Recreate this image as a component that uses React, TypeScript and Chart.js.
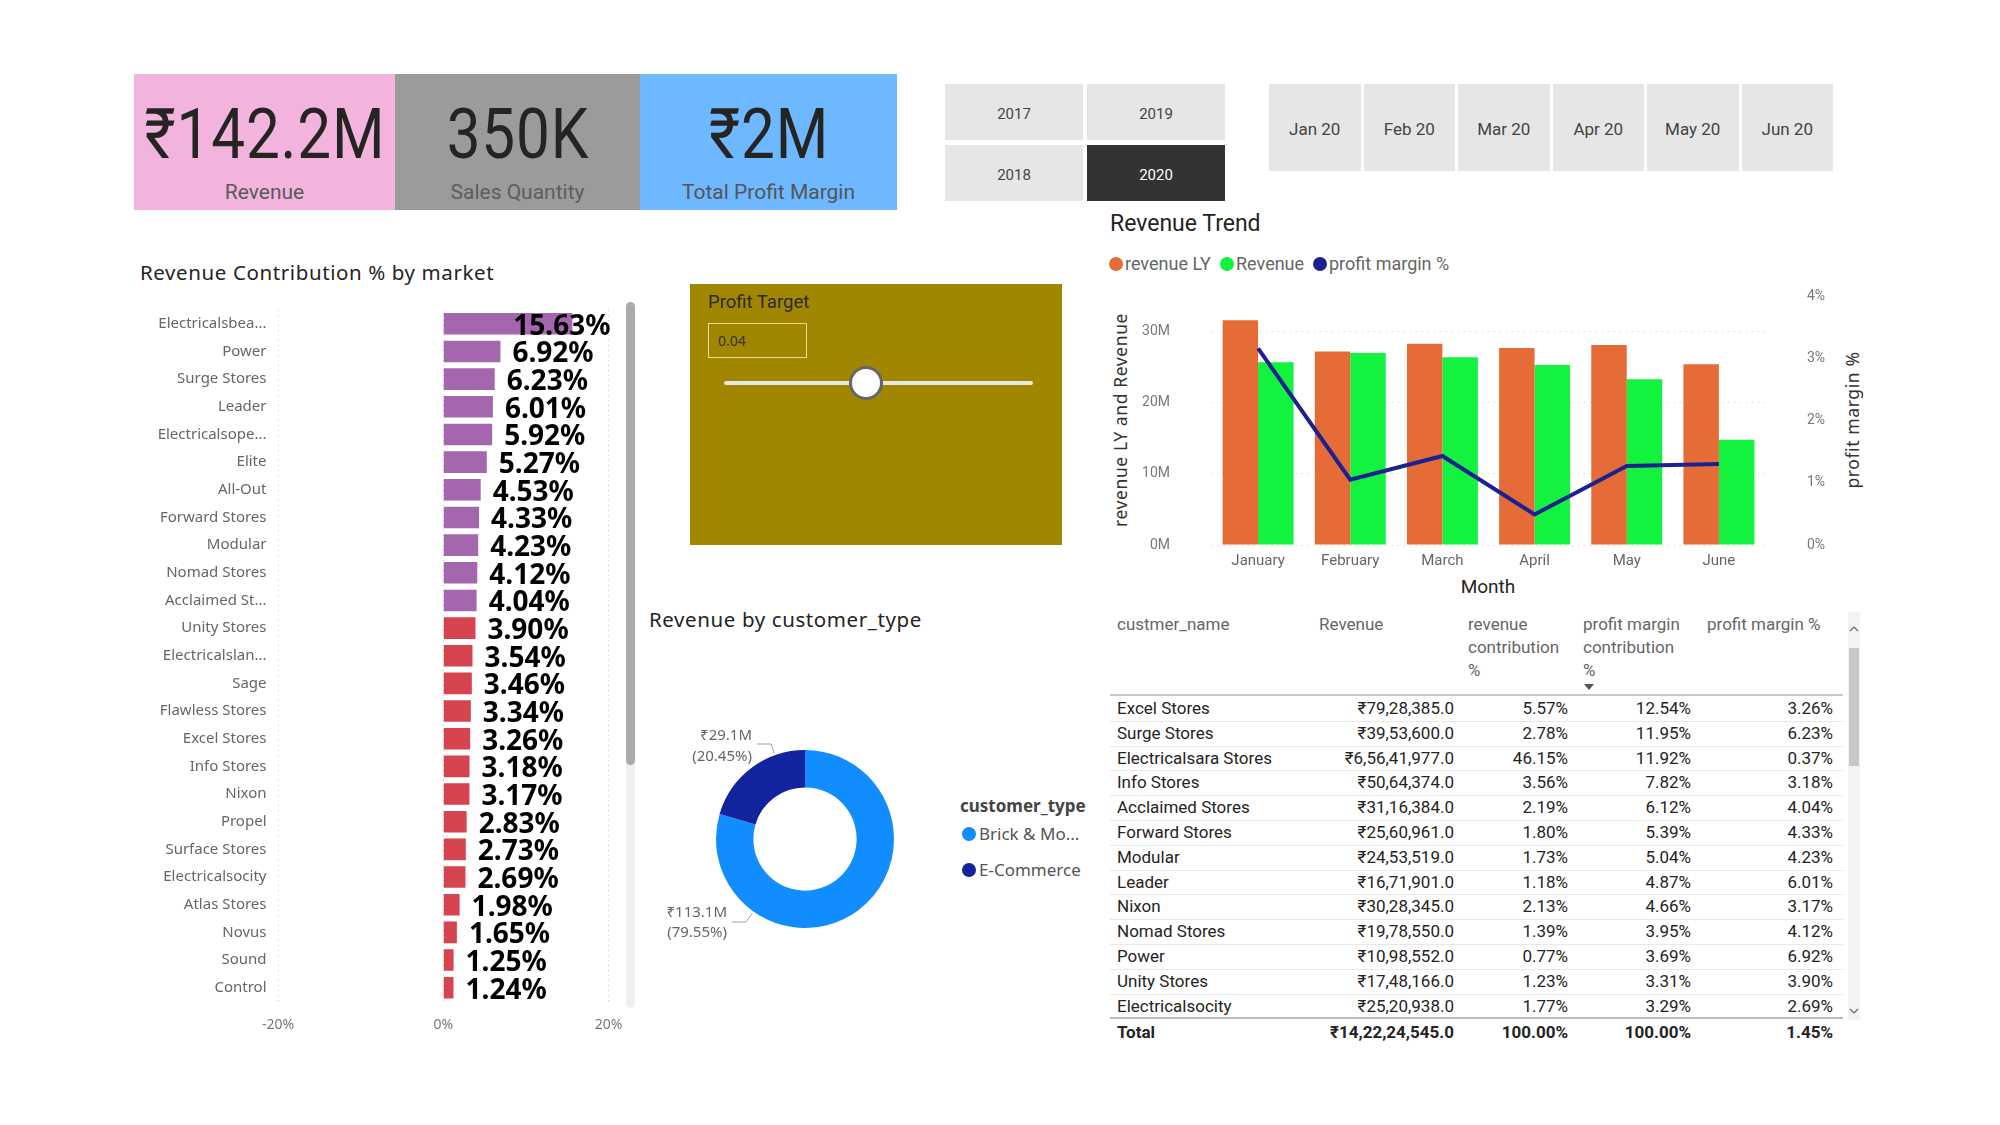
import React, { useEffect, useRef } from 'react';
import { Chart, registerables } from 'chart.js';

Chart.register(...registerables);

// ---------- data ----------
const kpiValues = ['₹142.2M', '350K', '₹2M'];
const kpiLabels = ['Revenue', 'Sales Quantity', 'Total Profit Margin'];

const yearOptions = ['2017', '2019', '2018', '2020'];
const selectedYear = '2020';
const monthOptions = ['Jan 20', 'Feb 20', 'Mar 20', 'Apr 20', 'May 20', 'Jun 20'];

const markets = [
  'Electricalsbea...', 'Power', 'Surge Stores', 'Leader', 'Electricalsope...', 'Elite', 'All-Out',
  'Forward Stores', 'Modular', 'Nomad Stores', 'Acclaimed St...', 'Unity Stores', 'Electricalslan...',
  'Sage', 'Flawless Stores', 'Excel Stores', 'Info Stores', 'Nixon', 'Propel', 'Surface Stores',
  'Electricalsocity', 'Atlas Stores', 'Novus', 'Sound', 'Control',
];
const marketContribution = [
  15.63, 6.92, 6.23, 6.01, 5.92, 5.27, 4.53, 4.33, 4.23, 4.12, 4.04, 3.9, 3.54,
  3.46, 3.34, 3.26, 3.18, 3.17, 2.83, 2.73, 2.69, 1.98, 1.65, 1.25, 1.24,
];
const marketThreshold = 4;
const marketTicks = [-20, 0, 20];

const trendMonths = ['January', 'February', 'March', 'April', 'May', 'June'];
const revenueLY = [31.6, 27.2, 28.3, 27.7, 28.1, 25.4];
const revenueTY = [25.7, 27.0, 26.4, 25.3, 23.3, 14.8];
const profitMarginPct = [3.16, 1.05, 1.43, 0.49, 1.27, 1.3];
const trendLegend = ['revenue LY', 'Revenue', 'profit margin %'];

const customerTypes = ['Brick & Mortar', 'E-Commerce'];
const customerTypeLegend = ['Brick & Mo...', 'E-Commerce'];
const customerTypeRevenueM = [113.1, 29.1];
const customerTypeShare = [79.55, 20.45];

const profitTarget = '0.04';

const tableHeaders = [
  ['custmer_name'],
  ['Revenue'],
  ['revenue', 'contribution', '%'],
  ['profit margin', 'contribution', '%'],
  ['profit margin %'],
];
const tableCustomers = [
  'Excel Stores', 'Surge Stores', 'Electricalsara Stores', 'Info Stores', 'Acclaimed Stores',
  'Forward Stores', 'Modular', 'Leader', 'Nixon', 'Nomad Stores', 'Power', 'Unity Stores', 'Electricalsocity',
];
const tableRevenue = [
  '₹79,28,385.0', '₹39,53,600.0', '₹6,56,41,977.0', '₹50,64,374.0', '₹31,16,384.0', '₹25,60,961.0',
  '₹24,53,519.0', '₹16,71,901.0', '₹30,28,345.0', '₹19,78,550.0', '₹10,98,552.0', '₹17,48,166.0', '₹25,20,938.0',
];
const tableRevContribution = ['5.57%', '2.78%', '46.15%', '3.56%', '2.19%', '1.80%', '1.73%', '1.18%', '2.13%', '1.39%', '0.77%', '1.23%', '1.77%'];
const tablePmContribution = ['12.54%', '11.95%', '11.92%', '7.82%', '6.12%', '5.39%', '5.04%', '4.87%', '4.66%', '3.95%', '3.69%', '3.31%', '3.29%'];
const tablePmPct = ['3.26%', '6.23%', '0.37%', '3.18%', '4.04%', '4.33%', '4.23%', '6.01%', '3.17%', '4.12%', '6.92%', '3.90%', '2.69%'];
const tableTotal = ['Total', '₹14,22,24,545.0', '100.00%', '100.00%', '1.45%'];

// ---------- styles ----------
const SANS = '"Noto Sans", "Open Sans", sans-serif';
const ROBOTO = 'Roboto, "Noto Sans", sans-serif';
const PURPLE = '#A466AD';
const RED = '#D5444F';
const ORANGE = '#E66C37';
const GREEN = '#12F23F';
const NAVY = '#1B2290';
const DONUT_BLUE = '#118DFF';
const DONUT_NAVY = '#12239E';

type TProps = {
  x: number; y: number; size: number; children: React.ReactNode;
  color?: string; family?: string; weight?: number; align?: 'left' | 'right' | 'center';
  style?: React.CSSProperties;
};
const T = ({ x, y, size, children, color = '#252423', family = ROBOTO, weight = 400, align = 'left', style = {} }: TProps) => {
  const tx = align === 'left' ? '0' : align === 'right' ? '-100%' : '-50%';
  return (
    <div style={{
      position: 'absolute', left: x, top: y, transform: `translate(${tx}, -50%)`, fontSize: size,
      color, fontFamily: family, fontWeight: weight, whiteSpace: 'nowrap', lineHeight: 1.2, ...style,
    }}>{children}</div>
  );
};

const Box = ({ x, y, w, h, bg, style = {} }: { x: number; y: number; w: number; h: number; bg: string; style?: React.CSSProperties }) => (
  <div style={{ position: 'absolute', left: x, top: y, width: w, height: h, background: bg, ...style }} />
);

const noPad = (s: any) => { s.paddingTop = 0; s.paddingBottom = 0; s.paddingLeft = 0; s.paddingRight = 0; };

// ---------- charts ----------
function MarketChart() {
  const ref = useRef<HTMLCanvasElement>(null);
  useEffect(() => {
    const labelPlugin = {
      id: 'barLabels',
      afterDatasetsDraw(chart: any) {
        const { ctx, chartArea } = chart;
        const meta = chart.getDatasetMeta(0);
        ctx.save();
        ctx.font = `bold 28px ${SANS}`;
        ctx.fillStyle = '#000';
        ctx.textBaseline = 'middle';
        meta.data.forEach((bar: any, i: number) => {
          const text = marketContribution[i].toFixed(2) + '%';
          const w = ctx.measureText(text).width;
          let x = bar.x + 12;
          if (x + w > chartArea.right + 2) x = chartArea.right + 2 - w;
          ctx.fillText(text, x, bar.y + 3);
        });
        ctx.restore();
      },
    };
    const chart = new Chart(ref.current as HTMLCanvasElement, {
      type: 'bar',
      data: {
        labels: markets,
        datasets: [{
          data: marketContribution,
          backgroundColor: marketContribution.map((v) => (v >= marketThreshold ? PURPLE : RED)),
          barPercentage: 0.78,
          categoryPercentage: 1,
        }],
      },
      options: {
        indexAxis: 'y',
        responsive: false,
        animation: false,
        devicePixelRatio: 1,
        layout: { padding: { top: 10, right: 16.5, bottom: 0, left: 0 } },
        plugins: { legend: { display: false }, tooltip: { enabled: false } },
        scales: {
          x: {
            min: marketTicks[0],
            max: marketTicks[marketTicks.length - 1],
            afterBuildTicks: (s: any) => { s.ticks = marketTicks.map((v) => ({ value: v })); },
            ticks: { callback: (v: any) => v + '%', color: '#777', font: { size: 14, family: SANS }, padding: 15, maxRotation: 0 },
            grid: { color: '#c8c8c8', drawTicks: false, lineWidth: 1 },
            border: { display: false, dash: [1, 4] },
            afterFit: (s: any) => { s.height = 38.5; noPad(s); },
          },
          y: {
            ticks: { color: '#666', font: { size: 15, family: SANS }, padding: 11.5, autoSkip: false },
            grid: { display: false, drawTicks: false },
            border: { display: false },
            afterFit: (s: any) => { s.width = 148; noPad(s); },
          },
        },
      } as any,
      plugins: [labelPlugin],
    });
    return () => chart.destroy();
  }, []);
  return <canvas ref={ref} width={495} height={740} style={{ position: 'absolute', left: 130, top: 300, display: 'block' }} />;
}

function TrendChart() {
  const ref = useRef<HTMLCanvasElement>(null);
  useEffect(() => {
    const chart = new Chart(ref.current as HTMLCanvasElement, {
      data: {
        labels: trendMonths,
        datasets: [
          { type: 'line', label: trendLegend[2], data: profitMarginPct, yAxisID: 'y1', borderColor: NAVY, borderWidth: 4, pointRadius: 0, tension: 0, order: 0 },
          { type: 'bar', label: trendLegend[0], data: revenueLY, yAxisID: 'y', backgroundColor: ORANGE, categoryPercentage: 0.77, barPercentage: 1, order: 1 },
          { type: 'bar', label: trendLegend[1], data: revenueTY, yAxisID: 'y', backgroundColor: GREEN, categoryPercentage: 0.77, barPercentage: 1, order: 1 },
        ],
      },
      options: {
        responsive: false,
        animation: false,
        devicePixelRatio: 1,
        layout: { padding: { top: 16, right: 0, bottom: 0, left: 0 } },
        plugins: { legend: { display: false }, tooltip: { enabled: false } },
        scales: {
          x: {
            grid: { display: false, drawTicks: false },
            border: { display: false },
            ticks: { color: '#666', font: { size: 15, family: ROBOTO }, padding: 7, maxRotation: 0 },
            afterFit: (s: any) => { s.height = 55; noPad(s); },
          },
          y: {
            position: 'left',
            min: 0,
            max: 35,
            afterBuildTicks: (s: any) => { s.ticks = s.ticks.filter((t: any) => t.value % 10 === 0); },
            ticks: { stepSize: 10, callback: (v: any) => v + 'M', color: '#777', font: { size: 14, family: ROBOTO }, padding: 42 },
            grid: { color: '#cfcfcf', drawTicks: false },
            border: { display: false, dash: [1, 5] },
            afterFit: (s: any) => { s.width = 112; noPad(s); },
          },
          y1: {
            position: 'right',
            min: 0,
            max: 4,
            ticks: { stepSize: 1, callback: (v: any) => v + '%', color: '#777', font: { size: 14, family: ROBOTO }, padding: 42 },
            grid: { display: false, drawTicks: false },
            border: { display: false },
            afterFit: (s: any) => { s.width = 115; noPad(s); },
          },
        },
      } as any,
    });
    return () => chart.destroy();
  }, []);
  return <canvas ref={ref} width={780} height={320} style={{ position: 'absolute', left: 1100, top: 280, display: 'block' }} />;
}

const DONUT_OX = 650;
const DONUT_OY = 700;
const donutLabelLayout = [
  { textRight: 727, line1: 913, line2: 933, lineY: 922 },
  { textRight: 752, line1: 736, line2: 757, lineY: 744 },
];

function DonutChart() {
  const ref = useRef<HTMLCanvasElement>(null);
  useEffect(() => {
    const donutLabels = {
      id: 'donutLabels',
      afterDatasetsDraw(chart: any) {
        const { ctx } = chart;
        const meta = chart.getDatasetMeta(0);
        ctx.save();
        meta.data.forEach((arc: any, i: number) => {
          const p = arc.getProps(['x', 'y', 'outerRadius'], true);
          const L = donutLabelLayout[i];
          const tr = L.textRight - DONUT_OX;
          const ey = L.lineY - DONUT_OY;
          const ex = tr + 19;
          const dx = ex - p.x;
          const dy = ey - p.y;
          const d = Math.hypot(dx, dy);
          const ax = p.x + (dx / d) * (p.outerRadius + 2);
          const ay = p.y + (dy / d) * (p.outerRadius + 2);
          ctx.strokeStyle = '#a0a0a0';
          ctx.lineWidth = 1;
          ctx.beginPath();
          ctx.moveTo(tr + 5, ey);
          ctx.lineTo(ex, ey);
          ctx.lineTo(ax, ay);
          ctx.stroke();
          ctx.fillStyle = '#666';
          ctx.font = `15px ${SANS}`;
          ctx.textAlign = 'right';
          ctx.textBaseline = 'middle';
          ctx.fillText('₹' + customerTypeRevenueM[i].toFixed(1) + 'M', tr, L.line1 - DONUT_OY);
          ctx.fillText('(' + customerTypeShare[i].toFixed(2) + '%)', tr, L.line2 - DONUT_OY);
        });
        ctx.restore();
      },
    };
    const chart = new Chart(ref.current as HTMLCanvasElement, {
      type: 'doughnut',
      data: {
        labels: customerTypes,
        datasets: [{ data: customerTypeRevenueM, backgroundColor: [DONUT_BLUE, DONUT_NAVY], borderWidth: 0 }],
      },
      options: {
        responsive: false,
        animation: false,
        devicePixelRatio: 1,
        cutout: '58%',
        layout: { padding: { left: 66, right: 46, top: 50, bottom: 32 } },
        plugins: { legend: { display: false }, tooltip: { enabled: false } },
      } as any,
      plugins: [donutLabels],
    });
    return () => chart.destroy();
  }, []);
  return <canvas ref={ref} width={290} height={260} style={{ position: 'absolute', left: DONUT_OX, top: DONUT_OY, display: 'block' }} />;
}

// ---------- layout pieces ----------
const cardX = [134, 395, 640, 897];
const cardColors = ['#F2B4DC', '#9B9B9B', '#6DB8FF'];
const cardLabelColors = ['#5a5a5a', '#5e5e5e', '#555'];

function KpiCards() {
  return (
    <>
      {kpiValues.map((v, i) => {
        const x0 = cardX[i];
        const w = cardX[i + 1] - x0;
        const cx = x0 + w / 2;
        return (
          <React.Fragment key={i}>
            <Box x={x0} y={74} w={w} h={136} bg={cardColors[i]} />
            <div style={{ position: 'absolute', left: cx, top: 134, transform: 'translate(-50%, -50%) scaleX(0.86)', fontFamily: ROBOTO, fontSize: 70, lineHeight: 1, color: '#252423', whiteSpace: 'nowrap', letterSpacing: 1 }}>{v}</div>
            <T x={cx} y={193} size={21} align="center" color={cardLabelColors[i]}>{kpiLabels[i]}</T>
          </React.Fragment>
        );
      })}
    </>
  );
}

function YearSlicer() {
  const pos = [[945, 84], [1087, 84], [945, 145], [1087, 145]];
  return (
    <>
      {yearOptions.map((y, i) => {
        const sel = y === selectedYear;
        return (
          <div key={y} style={{ position: 'absolute', left: pos[i][0], top: pos[i][1], width: 138, height: 56, background: sel ? '#333333' : '#E6E6E6', color: sel ? '#fff' : '#444', display: 'flex', alignItems: 'center', justifyContent: 'center', fontFamily: ROBOTO, fontSize: 15, paddingTop: 3, boxSizing: 'border-box' }}>{y}</div>
        );
      })}
    </>
  );
}

function MonthSlicer() {
  const w = (564 - 5 * 3) / 6;
  return (
    <>
      {monthOptions.map((m, i) => (
        <div key={m} style={{ position: 'absolute', left: 1269 + i * (w + 3), top: 84, width: w, height: 87, background: '#E6E6E6', color: '#444', display: 'flex', alignItems: 'center', justifyContent: 'center', fontFamily: ROBOTO, fontSize: 17, paddingTop: 2, boxSizing: 'border-box' }}>{m}</div>
      ))}
    </>
  );
}

function ProfitTargetPanel() {
  return (
    <>
      <Box x={690} y={284} w={372} h={261} bg="#A18600" />
      <T x={708} y={302} size={18.5} color="#2a2a2a">Profit Target</T>
      <div style={{ position: 'absolute', left: 708, top: 323, width: 97, height: 33, border: '1px solid #E6DCA8' }} />
      <T x={718} y={341} size={14} color="#333" family={SANS}>{profitTarget}</T>
      <div style={{ position: 'absolute', left: 724, top: 381, width: 309, height: 4, borderRadius: 2, background: '#E8E8E2' }} />
      <div style={{ position: 'absolute', left: 866 - 17, top: 383 - 17, width: 28, height: 28, borderRadius: '50%', background: '#fff', border: '3px solid #666' }} />
    </>
  );
}

function TrendDecor() {
  const items = [
    { x: 1116, color: ORANGE, label: trendLegend[0] },
    { x: 1227, color: GREEN, label: trendLegend[1] },
    { x: 1320, color: NAVY, label: trendLegend[2] },
  ];
  return (
    <>
      <T x={1110} y={224} size={23} color="#252423">Revenue Trend</T>
      {items.map((it) => (
        <React.Fragment key={it.label}>
          <div style={{ position: 'absolute', left: it.x - 7, top: 264 - 7, width: 14, height: 14, borderRadius: '50%', background: it.color }} />
          <T x={it.x + 9} y={264} size={18} color="#666">{it.label}</T>
        </React.Fragment>
      ))}
      <T x={1120} y={420} size={17.5} color="#333" family={SANS} align="center" style={{ transform: 'translate(-50%, -50%) rotate(-90deg)', letterSpacing: 0.6 }}>revenue LY and Revenue</T>
      <T x={1852} y={420} size={17.5} color="#333" family={SANS} align="center" style={{ transform: 'translate(-50%, -50%) rotate(-90deg)', letterSpacing: 0.6 }}>profit margin %</T>
      <T x={1488} y={587} size={19} align="center" color="#252423">Month</T>
    </>
  );
}

function DonutDecor() {
  const colors = [DONUT_BLUE, DONUT_NAVY];
  const ys = [834, 870];
  return (
    <>
      <T x={649} y={619} size={20.5} family={SANS} color="#252423" style={{ letterSpacing: 0.6 }}>Revenue by customer_type</T>
      <T x={960} y={806} size={17} family={SANS} weight={700} color="#444">customer_type</T>
      {customerTypeLegend.map((l, i) => (
        <React.Fragment key={l}>
          <div style={{ position: 'absolute', left: 969 - 7, top: ys[i] - 7, width: 14, height: 14, borderRadius: '50%', background: colors[i] }} />
          <T x={979} y={ys[i]} size={17} family={SANS} color="#555">{l}</T>
        </React.Fragment>
      ))}
    </>
  );
}

function MarketDecor() {
  return (
    <>
      <T x={140} y={272} size={20.5} family={SANS} color="#252423" style={{ letterSpacing: 0.6 }}>Revenue Contribution % by market</T>
      <div style={{ position: 'absolute', left: 626, top: 302, width: 9, height: 706, borderRadius: 5, background: '#F0F0F0' }} />
      <div style={{ position: 'absolute', left: 626, top: 302, width: 9, height: 463, borderRadius: 5, background: '#ABABAB' }} />
    </>
  );
}

const Chevron = ({ x, y, up }: { x: number; y: number; up: boolean }) => (
  <svg style={{ position: 'absolute', left: x - 5, top: y - 4 }} width={10} height={8}>
    <polyline points={up ? '1,6 5,2 9,6' : '1,2 5,6 9,2'} fill="none" stroke="#666" strokeWidth={1.2} />
  </svg>
);

function DataTable() {
  const colLeft = [1117, 1319, 1468, 1583, 1707];
  const colRight = [0, 1454, 1568, 1691, 1833];
  const rowY0 = 708;
  const step = 24.8;
  const columns = [tableCustomers, tableRevenue, tableRevContribution, tablePmContribution, tablePmPct];
  return (
    <>
      {tableHeaders.map((lines, c) =>
        lines.map((ln, k) => (
          <T key={`h${c}-${k}`} x={colLeft[c]} y={624 + k * 23} size={17} color="#666">{ln}</T>
        ))
      )}
      <svg style={{ position: 'absolute', left: 1584, top: 684 }} width={10} height={7}>
        <polygon points="0,0 10,0 5,6" fill="#555" />
      </svg>
      <Box x={1110} y={694} w={733} h={2} bg="#C8C8C8" />
      {tableCustomers.map((_, r) => (
        <React.Fragment key={`r${r}`}>
          {r > 0 && <Box x={1110} y={696 + r * step} w={733} h={1} bg="#E8E8E8" />}
          {columns.map((col, c) =>
            c === 0 ? (
              <T key={c} x={colLeft[0]} y={rowY0 + r * step} size={17} color="#252423">{col[r]}</T>
            ) : (
              <T key={c} x={colRight[c]} y={rowY0 + r * step} size={17} align="right" color="#252423">{col[r]}</T>
            )
          )}
        </React.Fragment>
      ))}
      <Box x={1110} y={1017} w={733} h={2} bg="#BDBDBD" />
      {tableTotal.map((v, c) =>
        c === 0 ? (
          <T key={`t${c}`} x={colLeft[0]} y={1032} size={17} weight={700} color="#252423">{v}</T>
        ) : (
          <T key={`t${c}`} x={colRight[c]} y={1032} size={17} weight={700} align="right" color="#252423">{v}</T>
        )
      )}
      <div style={{ position: 'absolute', left: 1848, top: 612, width: 12, height: 408, background: '#F3F3F3' }} />
      <div style={{ position: 'absolute', left: 1849, top: 648, width: 10, height: 118, background: '#C8C8C8' }} />
      <Chevron x={1854} y={629} up={true} />
      <Chevron x={1854} y={1011} up={false} />
    </>
  );
}

export default function App() {
  return (
    <div style={{ position: 'fixed', left: 0, top: 0, width: 2000, height: 1125, background: '#ffffff', overflow: 'hidden' }}>
      <KpiCards />
      <YearSlicer />
      <MonthSlicer />
      <MarketDecor />
      <MarketChart />
      <ProfitTargetPanel />
      <DonutDecor />
      <DonutChart />
      <TrendDecor />
      <TrendChart />
      <DataTable />
    </div>
  );
}
